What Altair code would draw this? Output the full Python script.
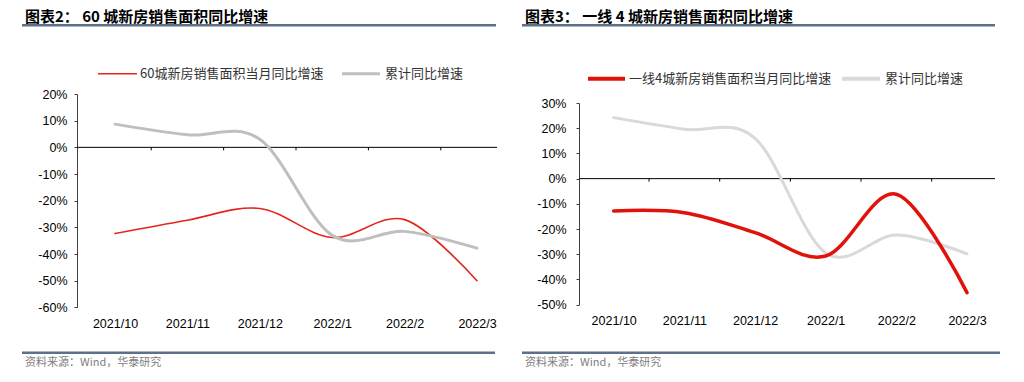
import altair as alt
import pandas as pd

# ---------------- data ----------------
months = ["2021/10", "2021/11", "2021/12", "2022/1", "2022/2", "2022/3"]

# 图表2: 60城
c60_title = "图表2：  60 城新房销售面积同比增速"
c60_series = ["60城新房销售面积当月同比增速", "累计同比增速"]
c60_month = [-32.3, -27.3, -22.9, -33.8, -27.1, -50.0]
c60_cum = [8.7, 4.7, 3.0, -33.0, -31.5, -37.8]
c60_yticks = [20, 10, 0, -10, -20, -30, -40, -50, -60]

# 图表3: 一线4城
t4_title = "图表3：  一线 4 城新房销售面积同比增速"
t4_series = ["一线4城新房销售面积当月同比增速", "累计同比增速"]
t4_month = [-12.8, -13.5, -21.4, -30.7, -6.2, -45.2]
t4_cum = [24.2, 19.6, 16.0, -29.5, -22.4, -29.8]
t4_yticks = [30, 20, 10, 0, -10, -20, -30, -40, -50]

source_note = "资料来源：Wind，华泰研究"

CJK = "Noto Sans CJK SC"
LAT = "Liberation Sans"
RULE_COLOR = "#5b7189"
OY = 93.3  # shared plot-origin row (page px)


def panel(cfg):
    ox, W, H = cfg["ox"], cfg["W"], cfg["H"]

    def X(v):
        return v - ox

    def Y(v):
        return v - OY

    one = pd.DataFrame({"k": [0]})
    xs = alt.Scale(domain=cfg["xdom"], nice=False, zero=False)
    ys = alt.Scale(domain=[min(cfg["yticks"]), max(cfg["yticks"])], nice=False, zero=False,
                   range=[H, Y(cfg["ytop"])])

    label_arr = "[" + ",".join("'" + m + "'" for m in months) + "]"
    x_axis = alt.Axis(
        values=list(range(len(months))), labelExpr=label_arr + "[datum.value]",
        domain=False, ticks=False, grid=False, title=None, labelFlush=False,
        labelOverlap=False, labelPadding=cfg["xpad"], labelFont=LAT,
        labelFontSize=12.5, labelColor="#000000",
    )
    y_axis = alt.Axis(
        values=cfg["yticks"], labelExpr="datum.value + '%'", grid=False, title=None,
        domain=True, domainColor="#404040", domainWidth=1, ticks=True, tickSize=3,
        tickColor="#404040", labelPadding=cfg["ypad"], labelFont=LAT, labelFontSize=12.5,
        labelColor="#000000", labelOverlap=False, labelFlush=False, labelBound=False,
    )

    df_m = pd.DataFrame({"i": list(range(len(months))), "v": cfg["month"]})
    df_c = pd.DataFrame({"i": list(range(len(months))), "v": cfg["cum"]})

    red = alt.Chart(df_m).mark_line(
        interpolate="cardinal", color=cfg["red"], strokeWidth=cfg["red_w"], strokeCap="round"
    ).encode(x=alt.X("i:Q", scale=xs, axis=x_axis), y=alt.Y("v:Q", scale=ys, axis=y_axis))
    gray = alt.Chart(df_c).mark_line(
        interpolate="cardinal", color=cfg["gray"], strokeWidth=cfg["gray_w"], strokeCap="round"
    ).encode(x=alt.X("i:Q", scale=xs, axis=x_axis), y=alt.Y("v:Q", scale=ys, axis=y_axis))

    zero = alt.Chart(one).mark_rule(color="#000000", strokeWidth=1).encode(
        x=alt.value(0), x2=alt.value(W), y=alt.Y(datum=0, scale=ys, axis=y_axis)
    )
    ticks_df = pd.DataFrame({"t": [i + 0.5 for i in range(len(months) - 1)]})
    zticks = alt.Chart(ticks_df).mark_rule(color="#000000", strokeWidth=1, y2Offset=3).encode(
        x=alt.X("t:Q", scale=xs, axis=x_axis), y=alt.Y(datum=0, scale=ys, axis=y_axis),
        y2=alt.datum(0)
    )

    frame = alt.Chart(one).mark_rect(opacity=0).encode(
        x=alt.value(X(cfg["rx0"])), x2=alt.value(X(cfg["rx1"])),
        y=alt.value(Y(8)), y2=alt.value(Y(374)),
    )

    title = alt.Chart(one).mark_text(
        align="left", baseline="middle", font=CJK, fontWeight="bold", fontSize=15, color="#000000"
    ).encode(x=alt.value(X(cfg["tx"])), y=alt.value(Y(16)), text=alt.value(cfg["title"]))
    trule = alt.Chart(one).mark_rule(color=RULE_COLOR, strokeWidth=2.5).encode(
        x=alt.value(X(cfg["tr0"])), x2=alt.value(X(cfg["tr1"])), y=alt.value(Y(24.5))
    )
    frule = alt.Chart(one).mark_rule(color=RULE_COLOR, strokeWidth=2.5).encode(
        x=alt.value(X(cfg["fr0"])), x2=alt.value(X(cfg["fr1"])), y=alt.value(Y(352))
    )
    foot = alt.Chart(one).mark_text(
        align="left", baseline="middle", font=CJK, fontSize=11, color="#808080"
    ).encode(x=alt.value(X(cfg["tx"])), y=alt.value(Y(362.5)), text=alt.value(source_note))

    ly = cfg["ly"]
    leg = []
    for (s0, s1, t0), name, col, w in zip(
        cfg["leg"], cfg["series"], [cfg["red"], cfg["gray"]], [cfg["red_lw"], cfg["gray_lw"]]
    ):
        leg.append(alt.Chart(one).mark_rule(color=col, strokeWidth=w).encode(
            x=alt.value(X(s0)), x2=alt.value(X(s1)), y=alt.value(Y(ly))))
        leg.append(alt.Chart(one).mark_text(
            align="left", baseline="middle", font=CJK, fontSize=13, color="#333333"
        ).encode(x=alt.value(X(t0)), y=alt.value(Y(ly)), text=alt.value(name)))

    lines = [red, gray] if cfg["red_below"] else [gray, red]
    return alt.layer(frame, zero, zticks, *lines, title, trule, frule, foot, *leg).properties(
        width=W, height=H
    )


left = panel(dict(
    ox=77, W=420, H=306.7 - OY, ytop=93.3, xdom=[-0.525, 5.276], xpad=10, ypad=7,
    yticks=c60_yticks, month=c60_month, cum=c60_cum, series=c60_series, title=c60_title,
    red="#e3261d", red_w=1.6, gray="#bfbfbf", gray_w=3, red_lw=1.6, gray_lw=3,
    red_below=True, rx0=8, rx1=512, tx=25, tr0=22, tr1=496, fr0=22, fr1=495,
    ly=73, leg=[(98, 137, 140), (342, 380, 385)],
))

right = panel(dict(
    ox=579, W=416, H=304 - OY, ytop=102.3, xdom=[-0.491, 5.396], xpad=10, ypad=10,
    yticks=t4_yticks, month=t4_month, cum=t4_cum, series=t4_series, title=t4_title,
    red="#e0120a", red_w=3.5, gray="#d9d9d9", gray_w=3, red_lw=4, gray_lw=4,
    red_below=False, rx0=512, rx1=1012, tx=525, tr0=522, tr1=995, fr0=522, fr1=1000,
    ly=78, leg=[(588, 625, 629), (842, 880, 885)],
))

chart = alt.hconcat(left, right, spacing=0).properties(
    padding=0, background="#ffffff"
).configure_view(stroke=None).configure_axis(labelOverlap=False)

chart.save("out.html", embed_options={"renderer": "svg", "actions": False})
